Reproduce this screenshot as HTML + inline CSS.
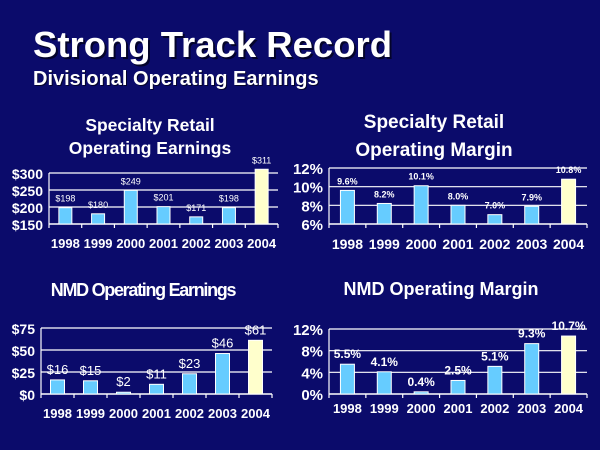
<!DOCTYPE html>
<html><head><meta charset="utf-8"><style>
html,body{margin:0;padding:0;background:#0b0b6b;}
svg{display:block;font-family:"Liberation Sans",Arial,sans-serif;}
</style></head><body>
<svg id="s" width="600" height="450" viewBox="0 0 600 450">
<rect width="600" height="450" fill="#0b0b6b"/>
<text x="35" y="59" font-size="36.5" font-weight="bold" fill="#000" opacity="0.6">Strong Track Record</text>
<text x="33" y="57" font-size="36.5" font-weight="bold" fill="#fff">Strong Track Record</text>
<text x="34" y="86" font-size="20" font-weight="bold" fill="#000" opacity="0.6">Divisional Operating Earnings</text>
<text x="33" y="85" font-size="20" font-weight="bold" fill="#fff">Divisional Operating Earnings</text>
<g fill="#fff" font-size="17" text-anchor="middle">
<text x="150" y="131" font-weight="bold" font-size="17.5">Specialty Retail</text>
<text x="150" y="154" font-weight="bold" font-size="17.5">Operating Earnings</text>
<text x="434" y="128" font-size="19" font-weight="bold">Specialty Retail</text>
<text x="434" y="156" font-size="19" font-weight="bold">Operating Margin</text>
<text x="143" y="296" font-size="18" font-weight="bold" letter-spacing="-1.3">NMD Operating Earnings</text>
<text x="441" y="295" font-size="18" font-weight="bold">NMD Operating Margin</text>
</g>
<g id="charts"></g>
</svg>
<script>
const ns="http://www.w3.org/2000/svg";const g=document.getElementById('charts');
function el(t,a,txt){const e=document.createElementNS(ns,t);for(const k in a)e.setAttribute(k,a[k]);if(txt!=null)e.textContent=txt;g.appendChild(e);return e;}
const years=['1998','1999','2000','2001','2002','2003','2004'];
function chart(c){
 const {x0,x1,yTop,yBot,min,max,ticks,vals,labels,tickLbl,lblSize,yrY,yrSize,bw,tkSize,lblBold}=c;
 const sy=v=>yBot-(v-min)/(max-min)*(yBot-yTop);
 ticks.forEach((t,i)=>{const y=sy(t);
  if(i>0) el('line',{x1:x0,x2:x1,y1:y,y2:y,stroke:'#fff','stroke-width':1.2});
  el('text',{x:x0-6,y:y+6,'font-size':tkSize,'font-weight':'bold',fill:'#fff','text-anchor':'end'},tickLbl[i]);});
 el('line',{x1:x0,x2:x0,y1:yTop,y2:yBot,stroke:'#fff','stroke-width':1.2});
 el('line',{x1:x0,x2:x1,y1:yBot,y2:yBot,stroke:'#fff','stroke-width':1.5});
 const w=(x1-x0)/7;
 for(let i=0;i<=7;i++){const x=x0+w*i;el('line',{x1:x,x2:x,y1:yBot,y2:yBot+4,stroke:'#fff','stroke-width':1.2});}
 vals.forEach((v,i)=>{const cx=x0+w*(i+0.5);const y=sy(v);
  el('rect',{x:cx-bw/2,y:y,width:bw,height:yBot-y,fill:i==6?'#ffffcc':'#66ccff',stroke:'#fff','stroke-width':1});
  el('text',{x:cx,y:y-6,'font-size':lblSize,fill:'#fff','text-anchor':'middle','font-weight':lblBold?'bold':'normal'},labels[i]);
  el('text',{x:cx,y:yrY,'font-size':yrSize,'font-weight':'bold',fill:'#fff','text-anchor':'middle'},years[i]);});
}
chart({x0:49,x1:278,yTop:173,yBot:224,min:150,max:300,ticks:[150,200,250,300],tickLbl:['$150','$200','$250','$300'],
 vals:[198,180,249,201,171,198,311],labels:['$198','$180','$249','$201','$171','$198','$311'],lblSize:9,yrY:248,yrSize:13,bw:13,tkSize:14});
chart({x0:329,x1:587,yTop:168,yBot:224,min:6,max:12,ticks:[6,8,10,12],tickLbl:['6%','8%','10%','12%'],
 vals:[9.6,8.2,10.1,8.0,7.0,7.9,10.8],labels:['9.6%','8.2%','10.1%','8.0%','7.0%','7.9%','10.8%'],lblSize:9,lblBold:true,yrY:249,yrSize:14,bw:14,tkSize:15});
chart({x0:41,x1:272,yTop:328,yBot:394,min:0,max:75,ticks:[0,25,50,75],tickLbl:['$0','$25','$50','$75'],
 vals:[16,15,2,11,23,46,61],labels:['$16','$15','$2','$11','$23','$46','$61'],lblSize:13,yrY:418,yrSize:13,bw:14,tkSize:14});
chart({x0:329,x1:587,yTop:329,yBot:394,min:0,max:12,ticks:[0,4,8,12],tickLbl:['0%','4%','8%','12%'],
 vals:[5.5,4.1,0.4,2.5,5.1,9.3,10.7],labels:['5.5%','4.1%','0.4%','2.5%','5.1%','9.3%','10.7%'],lblSize:12,lblBold:true,yrY:413,yrSize:13,bw:14,tkSize:15});
</script>
</body></html>
